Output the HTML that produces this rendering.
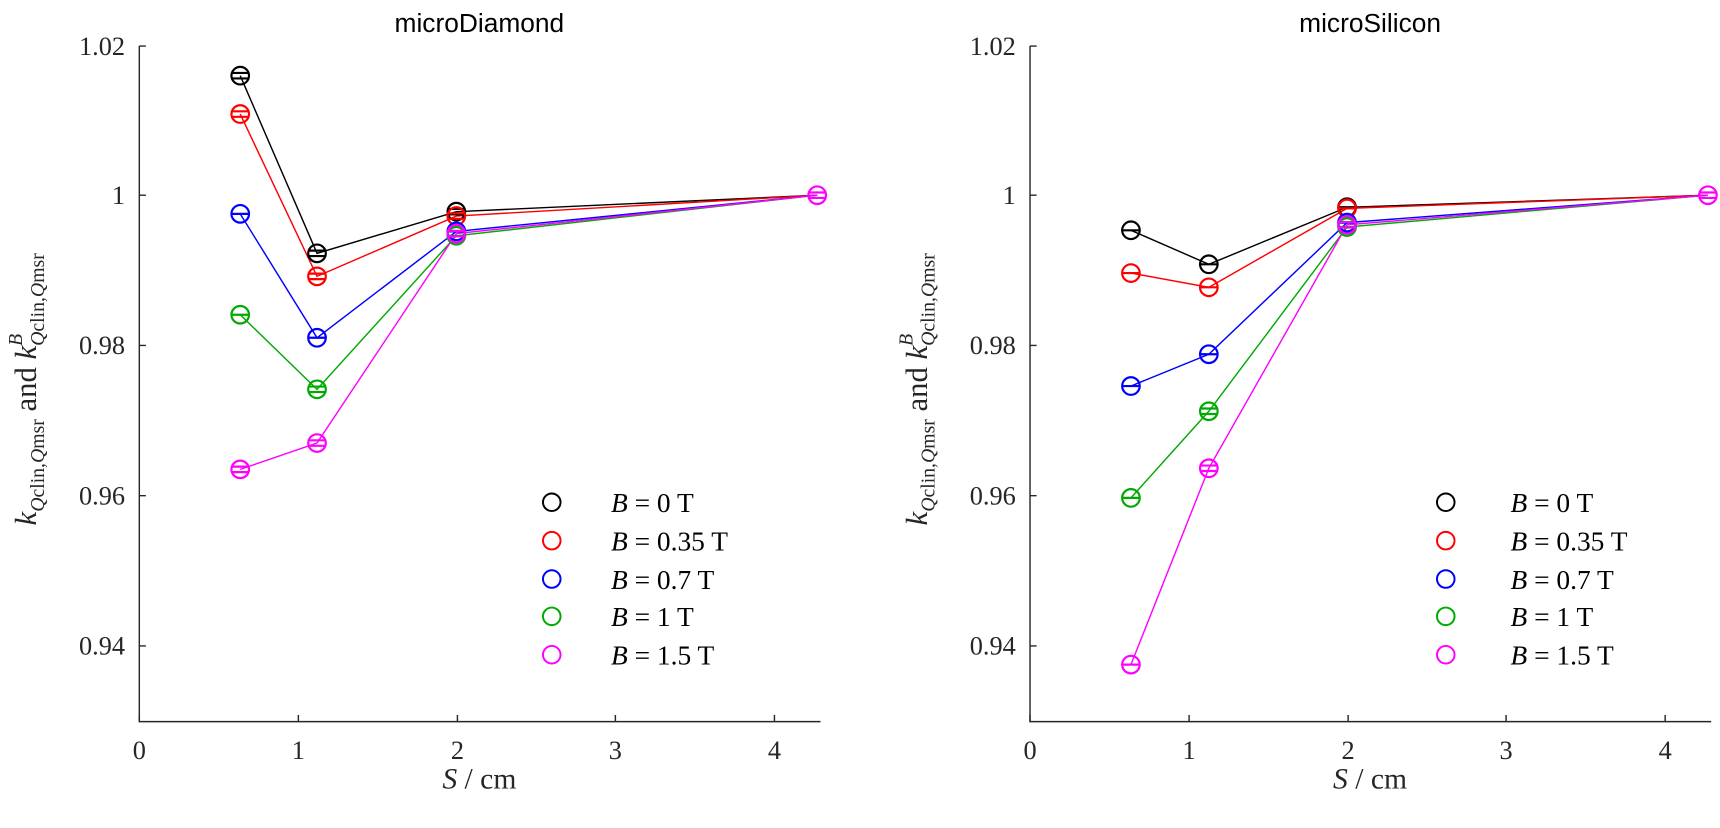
<!DOCTYPE html>
<html><head><meta charset="utf-8"><style>
html,body{margin:0;padding:0;background:#fff;width:1720px;height:828px;overflow:hidden}
svg{display:block}
.t{font-family:"Liberation Serif",serif;font-size:24px;fill:#262626}
.ti{font-family:"Liberation Sans",sans-serif;font-size:24px;fill:#000}
.lg{font-family:"Liberation Serif",serif;font-size:25px;fill:#000}
</style></head><body>
<svg width="1720" height="828" viewBox="0 0 1568 755" preserveAspectRatio="none" xmlns="http://www.w3.org/2000/svg">
<g stroke="#262626" stroke-width="1.3" fill="none">
<path d="M127,42 V658 H748"/>
<path d="M127,42 h6 M127,178 h6 M127,315 h6 M127,452 h6 M127,589 h6"/>
<path d="M127,658 v-6 M272,658 v-6 M417,658 v-6 M561,658 v-6 M706,658 v-6"/>
<path d="M939,42 V658 H1560"/>
<path d="M939,42 h6 M939,178 h6 M939,315 h6 M939,452 h6 M939,589 h6"/>
<path d="M939,658 v-6 M1084,658 v-6 M1229,658 v-6 M1373,658 v-6 M1518,658 v-6"/>
</g>
<g class="t" text-anchor="end">
<text x="114" y="50">1.02</text><text x="114" y="186">1</text><text x="114" y="323">0.98</text><text x="114" y="460">0.96</text><text x="114" y="597">0.94</text>
<text x="926" y="50">1.02</text><text x="926" y="186">1</text><text x="926" y="323">0.98</text><text x="926" y="460">0.96</text><text x="926" y="597">0.94</text>
</g>
<g class="t" text-anchor="middle">
<text x="127" y="692">0</text><text x="272" y="692">1</text><text x="417" y="692">2</text><text x="561" y="692">3</text><text x="706" y="692">4</text>
<text x="939" y="692">0</text><text x="1084" y="692">1</text><text x="1229" y="692">2</text><text x="1373" y="692">3</text><text x="1518" y="692">4</text>
<text x="437" y="719" style="font-size:27px"><tspan font-style="italic">S</tspan> / cm</text>
<text x="1249" y="719" style="font-size:27px"><tspan font-style="italic">S</tspan> / cm</text>
</g>
<text class="ti" x="437" y="29" text-anchor="middle">microDiamond</text>
<text class="ti" x="1249" y="29" text-anchor="middle">microSilicon</text>
<g class="t" style="font-size:28px">
<text transform="translate(33,355) rotate(-90)" text-anchor="middle"><tspan font-style="italic">k</tspan><tspan font-size="18" dy="7"><tspan font-style="italic">Q</tspan>clin<tspan>,</tspan><tspan font-style="italic">Q</tspan>msr</tspan><tspan dy="-7"> and </tspan><tspan font-style="italic">k</tspan><tspan font-size="18" dy="-13" font-style="italic">B</tspan><tspan font-size="18" dx="-11" dy="20"><tspan font-style="italic">Q</tspan>clin<tspan>,</tspan><tspan font-style="italic">Q</tspan>msr</tspan></text>
<text transform="translate(845,355) rotate(-90)" text-anchor="middle"><tspan font-style="italic">k</tspan><tspan font-size="18" dy="7"><tspan font-style="italic">Q</tspan>clin<tspan>,</tspan><tspan font-style="italic">Q</tspan>msr</tspan><tspan dy="-7"> and </tspan><tspan font-style="italic">k</tspan><tspan font-size="18" dy="-13" font-style="italic">B</tspan><tspan font-size="18" dx="-11" dy="20"><tspan font-style="italic">Q</tspan>clin<tspan>,</tspan><tspan font-style="italic">Q</tspan>msr</tspan></text>
</g>
<g fill="none" stroke-width="1.3">
<polyline stroke="#000" points="219,69 289,231 416,193 745,178"/>
<polyline stroke="#f00" points="219,104 289,252 416,197 745,178"/>
<polyline stroke="#00f" points="219,195 289,308 416,211 745,178"/>
<polyline stroke="#0a0" points="219,287 289,355 416,215 745,178"/>
<polyline stroke="#f0f" points="219,428 289,404 416,213 745,178"/>
<polyline stroke="#000" points="1031,210 1102,241 1228,189 1557,178"/>
<polyline stroke="#f00" points="1031,249 1102,262 1228,190 1557,178"/>
<polyline stroke="#00f" points="1031,352 1102,323 1228,203 1557,178"/>
<polyline stroke="#0a0" points="1031,454 1102,375 1228,207 1557,178"/>
<polyline stroke="#f0f" points="1031,606 1102,427 1228,205 1557,178"/>
</g>
<g fill="none" stroke-width="2">
<g stroke="#000">
<circle cx="219" cy="69" r="8"/><path d="M211,66.5h16M211,71.5h16"/>
<circle cx="289" cy="231" r="8"/><path d="M281,228.5h16M281,233.5h16"/>
<circle cx="416" cy="193" r="8"/><path d="M408,190.5h16M408,195.5h16"/>
<circle cx="1031" cy="210" r="8"/><path d="M1023,210h16"/>
<circle cx="1102" cy="241" r="8"/><path d="M1094,241h16"/>
<circle cx="1228" cy="189" r="8"/><path d="M1220,189h16"/>
</g>
<g stroke="#f00">
<circle cx="219" cy="104" r="8"/><path d="M211,101.5h16M211,106.5h16"/>
<circle cx="289" cy="252" r="8"/><path d="M281,249.5h16M281,254.5h16"/>
<circle cx="416" cy="197" r="8"/><path d="M408,194.5h16M408,199.5h16"/>
<circle cx="1031" cy="249" r="8"/><path d="M1023,249h16"/>
<circle cx="1102" cy="262" r="8"/><path d="M1094,262h16"/>
<circle cx="1228" cy="190" r="8"/><path d="M1220,190h16"/>
</g>
<g stroke="#00f">
<circle cx="219" cy="195" r="8"/><path d="M211,195h16"/>
<circle cx="289" cy="308" r="8"/><path d="M281,308h16"/>
<circle cx="416" cy="211" r="8"/><path d="M408,211h16"/>
<circle cx="1031" cy="352" r="8"/><path d="M1023,352h16"/>
<circle cx="1102" cy="323" r="8"/><path d="M1094,323h16"/>
<circle cx="1228" cy="203" r="8"/><path d="M1220,203h16"/>
</g>
<g stroke="#0a0">
<circle cx="219" cy="287" r="8"/><path d="M211,287h16"/>
<circle cx="289" cy="355" r="8"/><path d="M281,352.5h16M281,357.5h16"/>
<circle cx="416" cy="215" r="8"/><path d="M408,215h16"/>
<circle cx="1031" cy="454" r="8"/><path d="M1023,454h16"/>
<circle cx="1102" cy="375" r="8"/><path d="M1094,372.5h16M1094,377.5h16"/>
<circle cx="1228" cy="207" r="8"/><path d="M1220,207h16"/>
</g>
<g stroke="#f0f">
<circle cx="219" cy="428" r="8"/><path d="M211,425.5h16M211,430.5h16"/>
<circle cx="289" cy="404" r="8"/><path d="M281,401.5h16M281,406.5h16"/>
<circle cx="416" cy="213" r="8"/><path d="M408,210.5h16M408,215.5h16"/>
<circle cx="745" cy="178" r="8"/><path d="M737,175.5h16M737,180.5h16"/>
<circle cx="1031" cy="606" r="8"/><path d="M1023,606h16"/>
<circle cx="1102" cy="427" r="8"/><path d="M1094,424.5h16M1094,429.5h16"/>
<circle cx="1228" cy="205" r="8"/><path d="M1220,202.5h16M1220,207.5h16"/>
<circle cx="1557" cy="178" r="8"/><path d="M1549,175.5h16M1549,180.5h16"/>
</g>
</g>
<g fill="none" stroke-width="1.8">
<circle cx="503" cy="458" r="8" stroke="#000"/><circle cx="503" cy="493" r="8" stroke="#f00"/><circle cx="503" cy="528" r="8" stroke="#00f"/><circle cx="503" cy="562" r="8" stroke="#0a0"/><circle cx="503" cy="597" r="8" stroke="#f0f"/>
<circle cx="1318" cy="458" r="8" stroke="#000"/><circle cx="1318" cy="493" r="8" stroke="#f00"/><circle cx="1318" cy="528" r="8" stroke="#00f"/><circle cx="1318" cy="562" r="8" stroke="#0a0"/><circle cx="1318" cy="597" r="8" stroke="#f0f"/>
</g>
<g class="lg">
<text x="557" y="467"><tspan font-style="italic">B</tspan> = 0 T</text>
<text x="557" y="502"><tspan font-style="italic">B</tspan> = 0.35 T</text>
<text x="557" y="537"><tspan font-style="italic">B</tspan> = 0.7 T</text>
<text x="557" y="571"><tspan font-style="italic">B</tspan> = 1 T</text>
<text x="557" y="606"><tspan font-style="italic">B</tspan> = 1.5 T</text>
<text x="1377" y="467"><tspan font-style="italic">B</tspan> = 0 T</text>
<text x="1377" y="502"><tspan font-style="italic">B</tspan> = 0.35 T</text>
<text x="1377" y="537"><tspan font-style="italic">B</tspan> = 0.7 T</text>
<text x="1377" y="571"><tspan font-style="italic">B</tspan> = 1 T</text>
<text x="1377" y="606"><tspan font-style="italic">B</tspan> = 1.5 T</text>
</g>
</svg>
</body></html>
